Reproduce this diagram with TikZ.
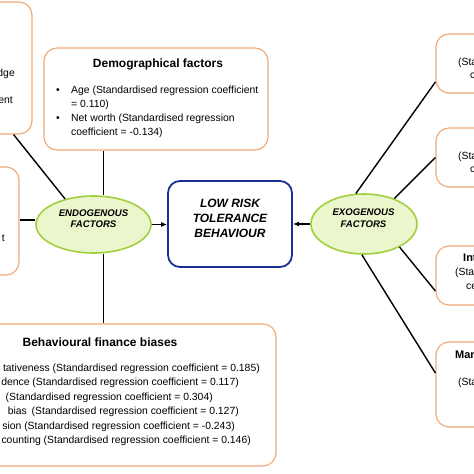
\documentclass[tikz,border=0pt]{standalone}
\usepackage{fontspec}
\setmainfont{Liberation Sans}
\usetikzlibrary{arrows.meta,calc,shapes.geometric}
\definecolor{boxorange}{RGB}{242,172,122}
\definecolor{ellfill}{RGB}{236,246,204}
\definecolor{elldraw}{RGB}{160,208,64}
\definecolor{coreblue}{RGB}{28,48,148}
\begin{document}
\begin{tikzpicture}[x=1pt,y=-1pt,
  obox/.style={draw=boxorange, line width=1.2pt, rounded corners=13pt, inner sep=0pt},
  ell/.style={ellipse, draw=elldraw, fill=ellfill, line width=1.6pt, inner sep=0pt},
  corebox/.style={draw=coreblue, line width=1.8pt, rounded corners=12pt, inner sep=0pt},
  body/.style={font=\fontsize{10.4}{14}\selectfont, inner sep=0pt, text=black},
  ttl/.style={font=\fontsize{12}{14}\selectfont\bfseries, inner sep=0pt},
  rttl/.style={font=\fontsize{11}{13}\selectfont\bfseries, inner sep=0pt},
  bigital/.style={font=\fontsize{12}{15}\selectfont\bfseries\itshape, align=center, inner sep=0pt},
  ellital/.style={font=\fontsize{9.6}{11.5}\selectfont\bfseries\itshape, align=center, inner sep=0pt},
  conn/.style={draw=black, line width=1.4pt},
  arr/.style={conn, -{Latex[length=6pt,width=5pt]}}]
\useasboundingbox (0,0) rectangle (474,474);
\fill[white] (0,0) rectangle (474,474);
\clip (0,0) rectangle (474,474);

% boxes
\node[obox, minimum width=132pt, minimum height=132pt] (tl) at (-34,68) {};
\node[obox, minimum width=224pt, minimum height=102pt] (demo) at (156,99) {};
\node[obox, minimum width=119pt, minimum height=108pt] (lm) at (-40.5,221) {};
\node[obox, minimum width=352pt, minimum height=142pt] (beh) at (100,395) {};
\node[obox, minimum width=150pt, minimum height=59pt] (r1) at (511,63.5) {};
\node[obox, minimum width=150pt, minimum height=59pt] (r2) at (511,157.5) {};
\node[obox, minimum width=150pt, minimum height=59pt] (r3) at (511,275.5) {};
\node[obox, minimum width=150pt, minimum height=85pt] (r4) at (511,384.5) {};
\node[ell, minimum width=115pt, minimum height=57pt] (endo) at (93.5,224.5) {};
\node[ell, minimum width=106pt, minimum height=60pt] (exo) at (364,224) {};
\node[corebox, minimum width=124pt, minimum height=86pt] (core) at (230,224) {};

% centre texts
\node[bigital] (coretxt) at (230,218) {LOW RISK\\TOLERANCE\\BEHAVIOUR};
\node[ellital] (endotxt) at (93.5,218.5) {ENDOGENOUS\\FACTORS};
\node[ellital] (exotxt) at (363.5,218) {EXOGENOUS\\FACTORS};

% demographical factors
\node[ttl, anchor=base] (demot) at (158,67.3) {Demographical factors};
\node[body, anchor=base west] (demob1) at (56,93.5) {\textbullet};
\node[body, anchor=base west] (demob2) at (56,121.5) {\textbullet};
\node[body, anchor=base west] (demo1) at (71,93.5) {Age (Standardised regression coefficient};
\node[body, anchor=base west] (demo2) at (71,107.5) {= 0.110)};
\node[body, anchor=base west] (demo3) at (71,121.5) {Net worth (Standardised regression};
\node[body, anchor=base west] (demo4) at (71,135.5) {coefficient = -0.134)};

% behavioural finance biases
\node[ttl, anchor=base] (beht) at (100,346) {Behavioural finance biases};
\node[body, anchor=base east] (beh1) at (260,371.5) {tativeness (Standardised regression coefficient = 0.185)};
\node[body, anchor=base east] (beh2) at (239,385.5) {dence (Standardised regression coefficient = 0.117)};
\node[body, anchor=base east] (beh3) at (213,400) {(Standardised regression coefficient = 0.304)};
\node[body, anchor=base east] (beh4) at (239,414.5) {bias\hspace{2pt} (Standardised regression coefficient = 0.127)};
\node[body, anchor=base east] (beh5) at (235,429) {sion (Standardised regression coefficient = -0.243)};
\node[body, anchor=base east] (beh6) at (251,443.5) {counting (Standardised regression coefficient = 0.146)};

% left fragments
\node[body, anchor=base east] (tl1) at (15,76.5) {dge};
\node[body, anchor=base east] (tl2) at (13,103.5) {ent};
\node[body, anchor=base east] (lm1) at (5,241.5) {t};

% right fragments
\node[body, anchor=base west] (r1a) at (458,65.5) {(Sta};
\node[body, anchor=base west] (r1b) at (470,78.5) {c};
\node[body, anchor=base west] (r2a) at (458,159.5) {(Sta};
\node[body, anchor=base west] (r2b) at (470,172.5) {c};
\node[rttl, anchor=base west] (r3t) at (463,261) {Int};
\node[body, anchor=base west] (r3a) at (455,275.5) {(Sta};
\node[body, anchor=base west] (r3b) at (466,289) {ce};
\node[rttl, anchor=base west] (r4t) at (455,358.5) {Man};
\node[body, anchor=base west] (r4a) at (458,385.5) {(Sta};

% connectors
\draw[conn] ([xshift=-19pt]tl.south east) -- (endo.138);
\draw[conn] ([xshift=10pt]endo.north) -- ([xshift=10pt]endo.north |- demo.south);
\draw[conn] ([yshift=4.5pt]endo.west) -- ([yshift=4.5pt]endo.west -| lm.east);
\draw[conn] ([xshift=10pt]endo.south) -- ([xshift=10pt]endo.south |- beh.north);
\draw[arr] (endo.east) -- (endo.east -| core.west);
\draw[arr] (exo.west) -- (exo.west -| core.east);
\draw[conn] (exo.105) -- ([yshift=-18.5pt]r1.west);
\draw[conn] (exo.40) -- (r2.west);
\draw[conn] (exo.-33) -- ([yshift=-15.5pt]r3.west);
\draw[conn] (exo.-94) -- ([yshift=11.5pt]r4.west);
\end{tikzpicture}
\end{document}
